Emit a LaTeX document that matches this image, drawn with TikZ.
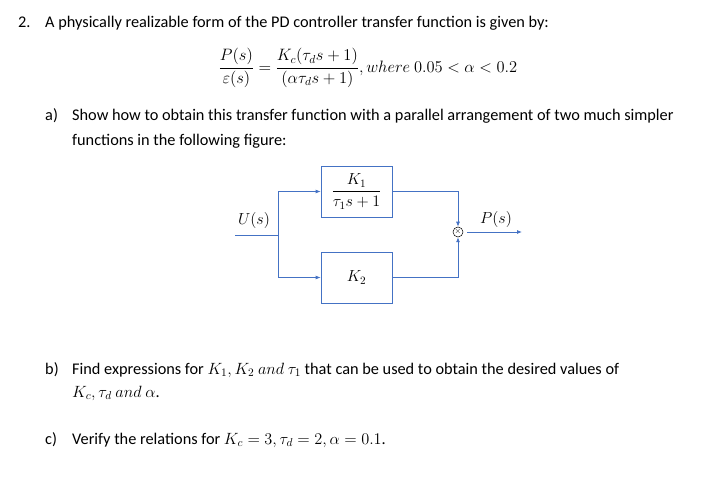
\documentclass[tikz,border=0pt]{standalone}
\usepackage{fix-cm}
\usepackage{amsmath}
\usepackage{fontspec}
\setmainfont{Carlito}
\usetikzlibrary{arrows.meta}
\definecolor{lb}{RGB}{68,114,196}
\begin{document}
\begin{tikzpicture}[x=1pt,y=-1pt,
  txt/.style={anchor=base west,inner sep=0pt,font=\fontsize{16.3}{19}\selectfont},
  mth/.style={font=\fontsize{16}{19}\selectfont},
  blk/.style={draw=lb,line width=0.8pt,minimum width=71pt,minimum height=51pt,inner sep=0pt,font=\fontsize{16}{19}\selectfont},
  wire/.style={draw=lb,line width=0.8pt},
  arr/.style={wire,-{Latex[length=5pt,width=4pt]}}]
\useasboundingbox (0,0) rectangle (705,481);
\node[txt] (n2) at (18,28) {2.};
\node[txt] (l1) at (45,28) {A physically realizable form of the PD controller transfer function is given by:};
\node[inner sep=0pt,font=\fontsize{16.5}{19}\selectfont] (eq) at (368,68) {$\dfrac{P(s)}{\varepsilon(s)}=\dfrac{K_c(\tau_d s+1)}{(\alpha\tau_d s+1)},\mathnormal{where}\ 0.05<\alpha<0.2$};
\node[txt] (na) at (45,121) {a)};
\node[txt] (la) at (72,121) {Show how to obtain this transfer function with a parallel arrangement of two much simpler};
\node[txt] (la2) at (72,146) {functions in the following figure:};
\node[blk] (b1) at (356.5,191.5) {$\dfrac{K_1}{\tau_1 s+1}$};
\node[blk] (b2) at (356.5,277.5) {$K_2$};
\coordinate (in) at (235,235);
\coordinate (j) at (278,235);
\node[draw=black,circle,inner sep=0pt,minimum size=10pt,line width=0.5pt,font=\fontsize{8}{8}\selectfont] (sum) at (458,232) {$\times$};
\coordinate (out) at (522,232);
\draw[wire] (in) -- (j);
\draw[arr] (j) |- (b1.west);
\draw[arr] (j) |- (b2.west);
\draw[arr] (b1.east) -| (sum.north);
\draw[arr] (b2.east) -| (sum.south);
\draw[arr] (sum.east) ++(4,0) -- (out);
\node[mth] (u) at (254,221) {$U(s)$};
\node[mth] (p) at (496,220) {$P(s)$};
\node[txt] (nb) at (45,374) {b)};
\node[txt] (lb) at (72,374) {Find expressions for $K_1, K_2$ $\mathnormal{and}$ $\tau_1$ that can be used to obtain the desired values of};
\node[txt] (lb2) at (72,397) {$K_c, \tau_d$ $\mathnormal{and}$ $\alpha$.};
\node[txt] (nc) at (45,444) {c)};
\node[txt] (lc) at (72,444) {Verify the relations for $K_c=3,\tau_d=2,\alpha=0.1$.};
\end{tikzpicture}
\end{document}
